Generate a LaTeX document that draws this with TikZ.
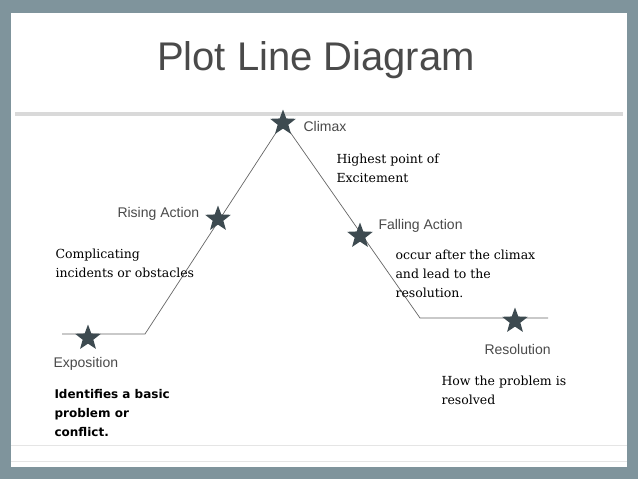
\documentclass[tikz,border=0pt]{standalone}
\usepackage{fontspec}
\setmainfont{Liberation Sans}
\newfontfamily\serifx{DejaVu Serif}
\newfontfamily\boldx{DejaVu Sans}
\usetikzlibrary{shapes.geometric}
\definecolor{frame}{HTML}{7F949C}
\definecolor{ink}{HTML}{3D4A50}
\definecolor{lab}{HTML}{4A4A4A}
\tikzset{
  starx/.style={star,star points=5,star point ratio=2.4,fill=ink,minimum size=27pt,inner sep=0pt},
  lbl/.style={anchor=west,text=lab,font=\fontsize{14}{16}\selectfont},
  note/.style={anchor=north west,align=left,font=\serifx\fontsize{12.5}{19}\selectfont},
  bnote/.style={anchor=north west,align=left,font=\boldx\bfseries\fontsize{12}{19}\selectfont}
}
\begin{document}
\begin{tikzpicture}[x=1pt,y=-1pt]
\fill[frame] (0,0) rectangle (638,479);
\fill[white] (11,13) rectangle (627,467);
\draw[gray!30,line width=4pt] (15,114) -- (623,114);
\draw[gray!20,line width=1pt] (11,445) -- (627,445);
\draw[gray!20,line width=1pt] (11,461) -- (627,461);
\node[font=\fontsize{40}{46}\selectfont,text=lab] (title) at (316,60) {Plot Line Diagram};
\coordinate (a) at (62,334);
\coordinate (b) at (145,334);
\coordinate (c) at (283,122);
\coordinate (d) at (420,318);
\coordinate (e) at (548,318);
\draw[gray!80!black,line width=0.7pt] (a) -- (b) -- (c) -- (d) -- (e);
\node[starx] (s1) at (88,338) {};
\node[starx] (s2) at (218,219) {};
\node[starx] (s3) at (283,123) {};
\node[starx] (s4) at (360,236) {};
\node[starx] (s5) at (515,321) {};
\node[lbl] (l3) at (300,126) {Climax};
\node[lbl] (l2) at (114,214) {Rising Action};
\node[lbl] (l4) at (375,226) {Falling Action};
\node[lbl] (l1) at (50,364) {Exposition};
\node[lbl] (l5) at (481,349) {Resolution};
\node[note] (n3) at (333,150) {Highest point of\\Excitement};
\node[note] (n2) at (52,245) {Complicating\\incidents or obstacles};
\node[note] (n4) at (392,246) {occur after the climax\\and lead to the\\resolution.};
\node[note] (n5) at (438,372) {How the problem is\\resolved};
\node[bnote] (n1) at (51,386) {Identifies a basic\\problem or\\conflict.};
\end{tikzpicture}
\end{document}
